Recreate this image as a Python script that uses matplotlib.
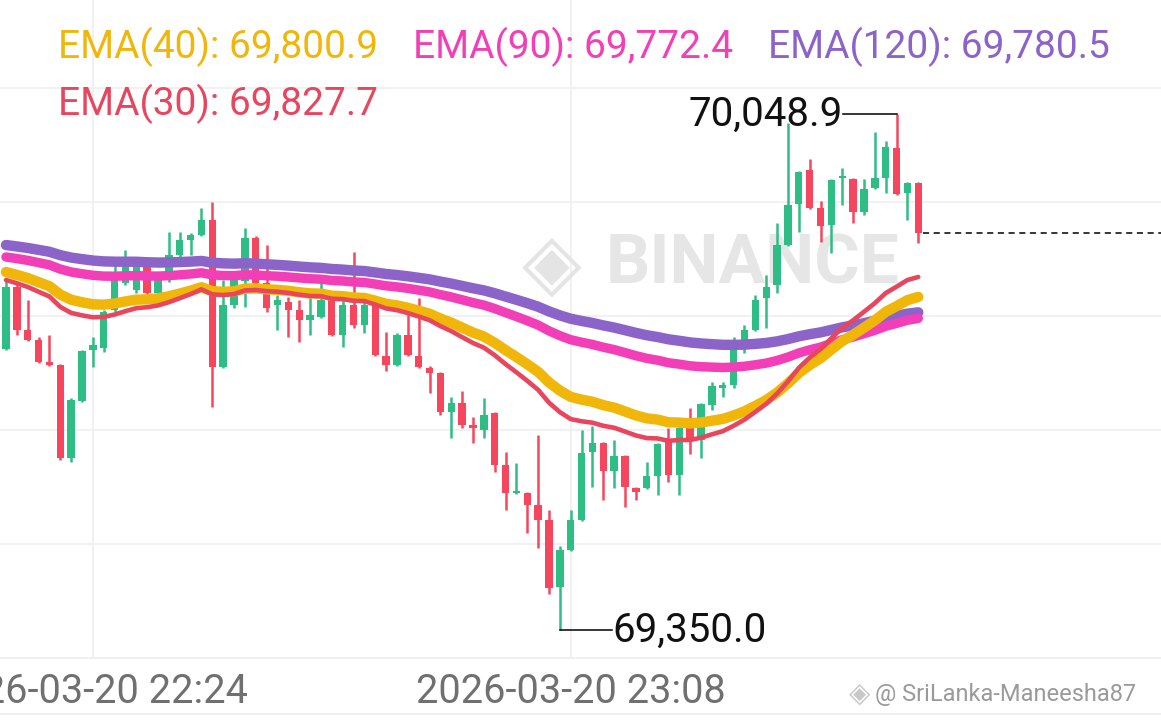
import matplotlib.pyplot as plt

plt.rcParams['font.family'] = ['Roboto', 'DejaVu Sans']

# 1 minute candles, 2026-03-20 22:16 .. 23:40
opens = [69730.6, 69814.5, 69756.3, 69742.7, 69713.0, 69708.9, 69582.9, 69660.1, 69729.2, 69731.9,
         69783.4, 69819.9, 69810.5, 69844.4, 69806.4, 69824.0, 69857.9, 69878.2, 69884.9, 69905.3,
         69706.2, 69790.1, 69822.6, 69880.9, 69819.9, 69790.1, 69794.2, 69783.4, 69769.8, 69773.9,
         69799.6, 69749.5, 69790.1, 69763.0, 69790.1, 69721.1, 69708.9, 69749.5, 69721.1, 69704.8,
         69698.0, 69645.2, 69657.4, 69627.6, 69620.8, 69643.8, 69573.4, 69535.5, 69535.5, 69519.2,
         69498.9, 69408.2, 69458.3, 69498.9, 69591.0, 69603.2, 69565.3, 69585.6, 69542.3, 69542.3,
         69558.5, 69608.7, 69559.9, 69624.9, 69607.3, 69654.7, 69677.7, 69681.8, 69740.0, 69756.3,
         69799.6, 69817.2, 69871.4, 69926.9, 69973.0, 69921.5, 69898.5, 69962.2, 69960.8, 69916.1,
         69948.6, 69962.2, 70002.8, 69941.8, 69955.4]
highs = [69826.7, 69819.9, 69796.9, 69746.8, 69749.5, 69710.3, 69664.2, 69729.2, 69746.8, 69783.4,
         69844.4, 69864.7, 69847.0, 69848.4, 69830.8, 69889.0, 69889.0, 69887.6, 69921.5, 69929.7,
         69824.0, 69826.7, 69894.4, 69883.6, 69871.4, 69803.7, 69801.0, 69796.9, 69799.6, 69819.9,
         69807.8, 69799.6, 69861.9, 69796.9, 69796.9, 69753.6, 69752.2, 69778.0, 69799.6, 69707.5,
         69699.4, 69665.6, 69673.7, 69638.5, 69664.2, 69645.2, 69591.0, 69576.1, 69536.9, 69614.1,
         69512.5, 69463.7, 69512.5, 69620.8, 69626.3, 69604.6, 69607.3, 69586.9, 69543.7, 69577.5,
         69603.2, 69623.5, 69624.9, 69650.6, 69657.4, 69685.9, 69685.9, 69746.8, 69763.0, 69803.7,
         69830.8, 69901.2, 70036.7, 69971.7, 69988.0, 69931.0, 69960.8, 69975.7, 69962.2, 69960.8,
         70024.5, 70012.3, 70048.9, 69956.7, 69956.7]
lows = [69729.2, 69749.5, 69741.3, 69711.6, 69707.5, 69580.2, 69577.5, 69658.8, 69706.2, 69726.5,
        69780.7, 69817.2, 69806.4, 69803.7, 69802.3, 69821.3, 69853.8, 69857.9, 69883.6, 69652.0,
        69704.8, 69786.1, 69787.4, 69815.8, 69780.7, 69756.3, 69746.8, 69740.0, 69749.5, 69772.5,
        69748.1, 69733.3, 69759.0, 69752.2, 69721.1, 69700.8, 69707.5, 69721.1, 69704.8, 69670.9,
        69641.1, 69610.0, 69623.5, 69603.2, 69610.0, 69563.9, 69512.5, 69534.1, 69481.3, 69461.0,
        69398.7, 69350.0, 69456.9, 69497.6, 69543.7, 69526.0, 69542.3, 69516.6, 69526.0, 69541.0,
        69532.8, 69550.4, 69532.8, 69588.3, 69582.9, 69647.9, 69665.6, 69677.7, 69725.1, 69754.9,
        69759.0, 69806.4, 69870.0, 69889.0, 69920.2, 69875.5, 69860.6, 69925.6, 69901.2, 69912.0,
        69947.3, 69941.8, 69939.1, 69905.3, 69874.1]
closes = [69814.5, 69756.3, 69742.7, 69713.0, 69708.9, 69582.9, 69661.5, 69727.8, 69736.0, 69780.7,
          69824.0, 69848.4, 69844.4, 69806.4, 69824.0, 69857.9, 69878.2, 69884.9, 69905.3, 69706.2,
          69790.1, 69824.0, 69880.9, 69819.9, 69786.1, 69796.9, 69783.4, 69769.8, 69776.6, 69796.9,
          69749.5, 69790.1, 69763.0, 69790.1, 69722.4, 69708.9, 69749.5, 69722.4, 69706.2, 69698.0,
          69645.2, 69657.4, 69627.6, 69623.5, 69641.1, 69573.4, 69535.5, 69538.2, 69519.2, 69498.9,
          69406.8, 69458.3, 69498.9, 69589.6, 69603.2, 69565.3, 69585.6, 69543.7, 69536.9, 69558.5,
          69601.9, 69559.9, 69623.5, 69607.3, 69656.1, 69680.4, 69681.8, 69731.9, 69756.3, 69796.9,
          69814.5, 69871.4, 69925.6, 69970.3, 69921.5, 69897.1, 69959.5, 69964.9, 69916.1, 69947.3,
          69962.2, 70004.2, 69940.5, 69955.4, 69887.6]

time_labels = ["2026-03-20 22:24", "2026-03-20 23:08"]
time_pos = [8, 52]

# EMA settings, value at first visible candle
ema_periods = [30, 40, 90, 120]
ema_first = [69824.0, 69834.8, 69855.2, 69871.4]
ema_last_text = ["69,827.7", "69,800.9", "69,772.4", "69,780.5"]
ema_colors = ["#e8455e", "#f0b70a", "#f23fb8", "#8c63c9"]
ema_widths = [3.3, 7.5, 6.8, 7.5]

grid_levels = [70084.1, 69929.7, 69775.3, 69620.8, 69466.4]

UP = "#2ebd85"
DOWN = "#f6465d"
W, H = 1161, 723


def ema(values, period, start):
    a = 2 / (period + 1)
    out = [start]
    for v in values[1:]:
        out.append(a * v + (1 - a) * out[-1])
    return out


fig = plt.figure(figsize=(W / 100, H / 100), dpi=100)
ax = fig.add_axes([0, 65 / H, 1, 658 / H])
ax.set_xlim(-0.55, 106.35)
ax.set_ylim(69312.0, 70203.3)
ax.axis("off")

# grid
for g in grid_levels:
    ax.axhline(g, color="#efefef", lw=1.2, zorder=0)
for p in time_pos:
    ax.axvline(p, color="#efefef", lw=1.2, zorder=0)
fig.add_artist(plt.Line2D([0, 1], [1 - 658 / H] * 2, color="#ececec", lw=1.2))
fig.add_artist(plt.Line2D([0, 1], [1 - 714 / H] * 2, color="#ececec", lw=1.2))

# watermark
ax.text(0.475, 0.597, "\u25c8", transform=ax.transAxes, fontsize=56, color="#e4e4e4",
        ha="center", va="center", family="DejaVu Sans", zorder=1)
ax.text(0.648, 0.597, "BINANCE", transform=ax.transAxes, fontsize=50, fontweight="bold",
        color="#e6e6e6", ha="center", va="center", zorder=1)

# candles
for i in range(len(closes)):
    o, h, l, c = opens[i], highs[i], lows[i], closes[i]
    col = UP if c >= o else DOWN
    ax.vlines(i, l, h, color=col, lw=1.8, zorder=3)
    ax.bar(i, max(abs(c - o), 1.6), bottom=min(o, c), width=0.68, color=col, zorder=3)

# EMA lines, drawn on top of the candles
xs = list(range(len(closes)))
order = [3, 2, 1, 0]
for z, j in enumerate(order):
    vals = ema(closes, ema_periods[j], ema_first[j])
    ax.plot(xs, vals, color=ema_colors[j], lw=ema_widths[j], solid_capstyle="round", zorder=4 + z)

# last price
ax.plot([84.45, 106.4], [closes[-1]] * 2, color="black", lw=1.1, ls=(0, (4, 3)), zorder=5)

# high / low markers
i_hi = highs.index(max(highs))
i_lo = lows.index(min(lows))
ax.plot([i_hi - 4.9, i_hi], [highs[i_hi]] * 2, color="black", lw=1.1, zorder=9)
ax.text(i_hi - 4.95, highs[i_hi], f"{highs[i_hi]:,.1f}", ha="right", va="center",
        fontsize=29, color="#111111", zorder=9)
ax.plot([i_lo, i_lo + 4.8], [lows[i_lo]] * 2, color="black", lw=1.1, zorder=9)
ax.text(i_lo + 4.85, lows[i_lo], f"{lows[i_lo]:,.1f}", ha="left", va="center",
        fontsize=29, color="#111111", zorder=9)

# legend texts
legend_xy = {40: (58, 58), 90: (413, 58), 120: (768, 58), 30: (58, 115)}
for j, p in enumerate(ema_periods):
    x, y = legend_xy[p]
    fig.text(x / W, 1 - y / H, f"EMA({p}): {ema_last_text[j]}", color=ema_colors[j],
             fontsize=28, ha="left", va="baseline")

# time axis
for lab, p in zip(time_labels, time_pos):
    xpix = 6 + 10.86 * p
    fig.text(xpix / W, 1 - 703 / H, lab, color="#707070", fontsize=28.5, ha="center", va="baseline")

fig.text(860 / W, 1 - 694 / H, "\u25c8", color="#c8c8c8", fontsize=20, ha="center", va="center",
         family="DejaVu Sans")
fig.text(875 / W, 1 - 694 / H, "@ SriLanka-Maneesha87", color="#9a9a9a", fontsize=17,
         ha="left", va="center")

fig.savefig("out.png", dpi=100)
